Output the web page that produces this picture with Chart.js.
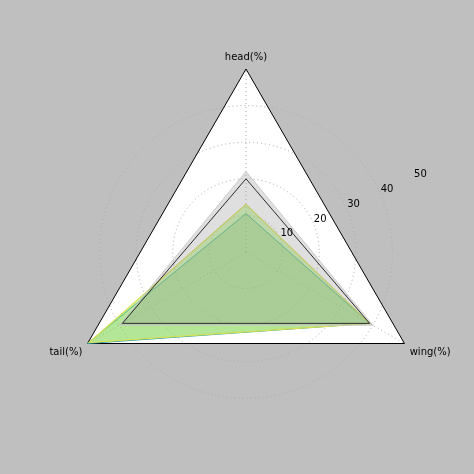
<!DOCTYPE html>
<html><head>
<script src="https://cdn.jsdelivr.net/npm/chart.js@4"></script>
<style>html,body{margin:0;background:#bfbfbf}canvas{display:block}</style>
</head><body>
<canvas id="c" width="474" height="474"></canvas>
<script>
const labels = ['head(%)', 'wing(%)', 'tail(%)'];
const graySeries = [22, 40, 40];
const blackSeries = [20, 39, 39];
const yellowSeries = [13, 39, 49.5];
const tealSeries = [10.5, 39, 50];
const tickValues = [10, 20, 30, 40, 50];

function trianglePath(s, ctx) {
    ctx.beginPath();
    labels.forEach((l, i) => {
        const p = s.getPointPositionForValue(i, 50);
        i ? ctx.lineTo(p.x, p.y) : ctx.moveTo(p.x, p.y);
    });
    ctx.closePath();
}

const frame = {
    id: 'frame',
    beforeDraw(chart) {
        const s = chart.scales.r, ctx = chart.ctx;
        ctx.save();
        trianglePath(s, ctx);
        ctx.fillStyle = '#fff';
        ctx.fill();
        ctx.restore();
    },
    beforeDatasetsDraw(chart) {
        const s = chart.scales.r, ctx = chart.ctx;
        ctx.save();
        trianglePath(s, ctx);
        ctx.strokeStyle = '#000';
        ctx.lineWidth = 1;
        ctx.stroke();
        ctx.restore();
    },
    afterDraw(chart) {
        const s = chart.scales.r, ctx = chart.ctx;
        const a = 66 * Math.PI / 180;
        ctx.save();
        ctx.fillStyle = '#000';
        ctx.font = '10px "DejaVu Sans"';
        ctx.textAlign = 'center';
        ctx.textBaseline = 'middle';
        tickValues.forEach(v => {
            const d = s.getDistanceFromCenterForValue(v) + 8;
            ctx.fillText(String(v), s.xCenter + d * Math.sin(a), s.yCenter - d * Math.cos(a));
        });
        ctx.restore();
    }
};

new Chart(document.getElementById('c'), {
    type: 'radar',
    data: {
        labels: labels,
        datasets: [
            { data: graySeries, borderColor: '#cccccc', backgroundColor: 'rgba(150,150,150,0.3)', borderWidth: 1, fill: true },
            { data: blackSeries, borderColor: '#000000', backgroundColor: 'rgba(0,0,0,0)', borderWidth: 1, fill: false },
            { data: yellowSeries, borderColor: '#d6e050', backgroundColor: 'rgba(150,230,80,0.45)', borderWidth: 1.2, fill: true },
            { data: tealSeries, borderColor: '#1c9ab0', backgroundColor: 'rgba(90,170,110,0.3)', borderWidth: 1, fill: true }
        ]
    },
    options: {
        responsive: false,
        animation: false,
        layout: { padding: { top: 42, bottom: 30, left: 20, right: 2 } },
        elements: { point: { radius: 0 }, line: { tension: 0 } },
        plugins: { legend: { display: false }, tooltip: { enabled: false } },
        scales: {
            r: {
                min: 0, max: 50,
                ticks: { display: false, stepSize: 10 },
                grid: { circular: true, color: ctx => ctx.tick.value === 50 ? 'rgba(0,0,0,0)' : '#aaaaaa' },
                border: { dash: [1, 3] },
                angleLines: { color: '#aaaaaa', borderDash: [1, 3] },
                pointLabels: { font: { family: 'DejaVu Sans', size: 10 }, color: '#000', padding: 6 }
            }
        }
    },
    plugins: [frame]
});
</script>
</body></html>
